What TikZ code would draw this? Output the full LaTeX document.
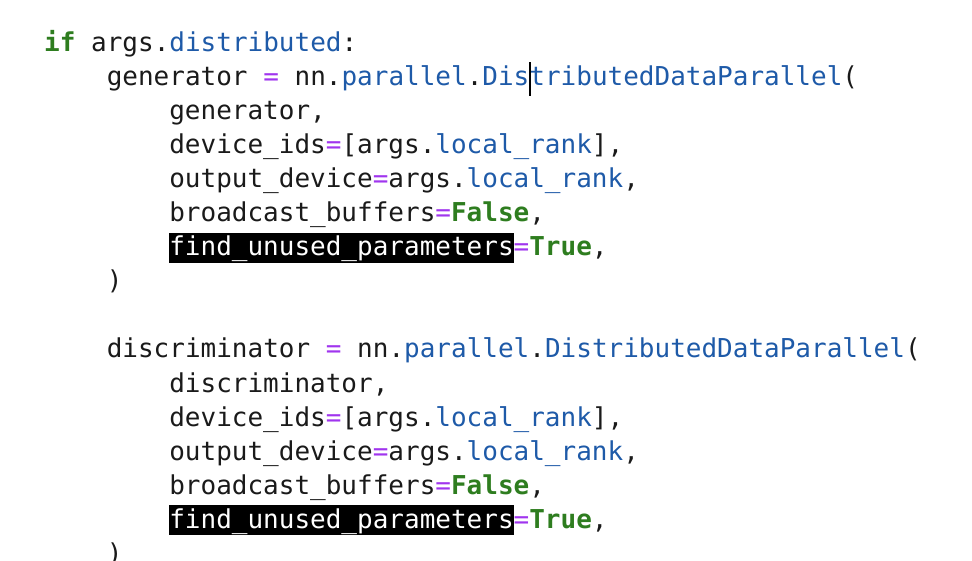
\documentclass[tikz,border=0pt]{standalone}
\usepackage{fontspec}
\setmonofont{DejaVu Sans Mono}
\definecolor{kw}{HTML}{2E7D1F}
\definecolor{at}{HTML}{1E5AA8}
\definecolor{op}{HTML}{A035EE}
\definecolor{tx}{HTML}{1A1A1A}
\newcommand{\K}[1]{\textcolor{kw}{\bfseries #1}}
\newcommand{\A}[1]{\textcolor{at}{#1}}
\newcommand{\E}{\textcolor{op}{=}}
\newcommand{\HL}[1]{{\setlength{\fboxsep}{0pt}\colorbox{black}{\rule[-7pt]{0pt}{30pt}\textcolor{white}{#1}}}}
\tikzset{codeline/.style={anchor=base west,inner sep=0pt,font=\ttfamily\fontsize{26}{26}\selectfont,text=tx}}
\begin{document}
\begin{tikzpicture}[x=1pt,y=-1pt]
\useasboundingbox (0,0) rectangle (972,560);
\clip (0,0) rectangle (972,560);
\def\cw{15.64}
\def\lh{34.1}
\newcommand{\CL}[4]{\node[codeline] (#1) at ({44+#2*\cw},{51+#3*\lh}) {#4};}
\CL{l0}{0}{0}{\K{if} args.\A{distributed}:}
\CL{l1}{4}{1}{generator \E{} nn.\A{parallel}.\A{DistributedDataParallel}(}
\CL{l2}{8}{2}{generator,}
\CL{l3}{8}{3}{device\_ids\E[args.\A{local\_rank}],}
\CL{l4}{8}{4}{output\_device\E args.\A{local\_rank},}
\CL{l5}{8}{5}{broadcast\_buffers\E\K{False},}
\CL{l6}{8}{6}{\HL{find\_unused\_parameters}\E\K{True},}
\CL{l7}{4}{7}{)}
\CL{l9}{4}{9}{discriminator \E{} nn.\A{parallel}.\A{DistributedDataParallel}(}
\CL{l10}{8}{10}{discriminator,}
\CL{l11}{8}{11}{device\_ids\E[args.\A{local\_rank}],}
\CL{l12}{8}{12}{output\_device\E args.\A{local\_rank},}
\CL{l13}{8}{13}{broadcast\_buffers\E\K{False},}
\CL{l14}{8}{14}{\HL{find\_unused\_parameters}\E\K{True},}
\CL{l15}{4}{15}{)}
\fill[black] (528.5,62) rectangle (530.5,96);
\end{tikzpicture}
\end{document}
